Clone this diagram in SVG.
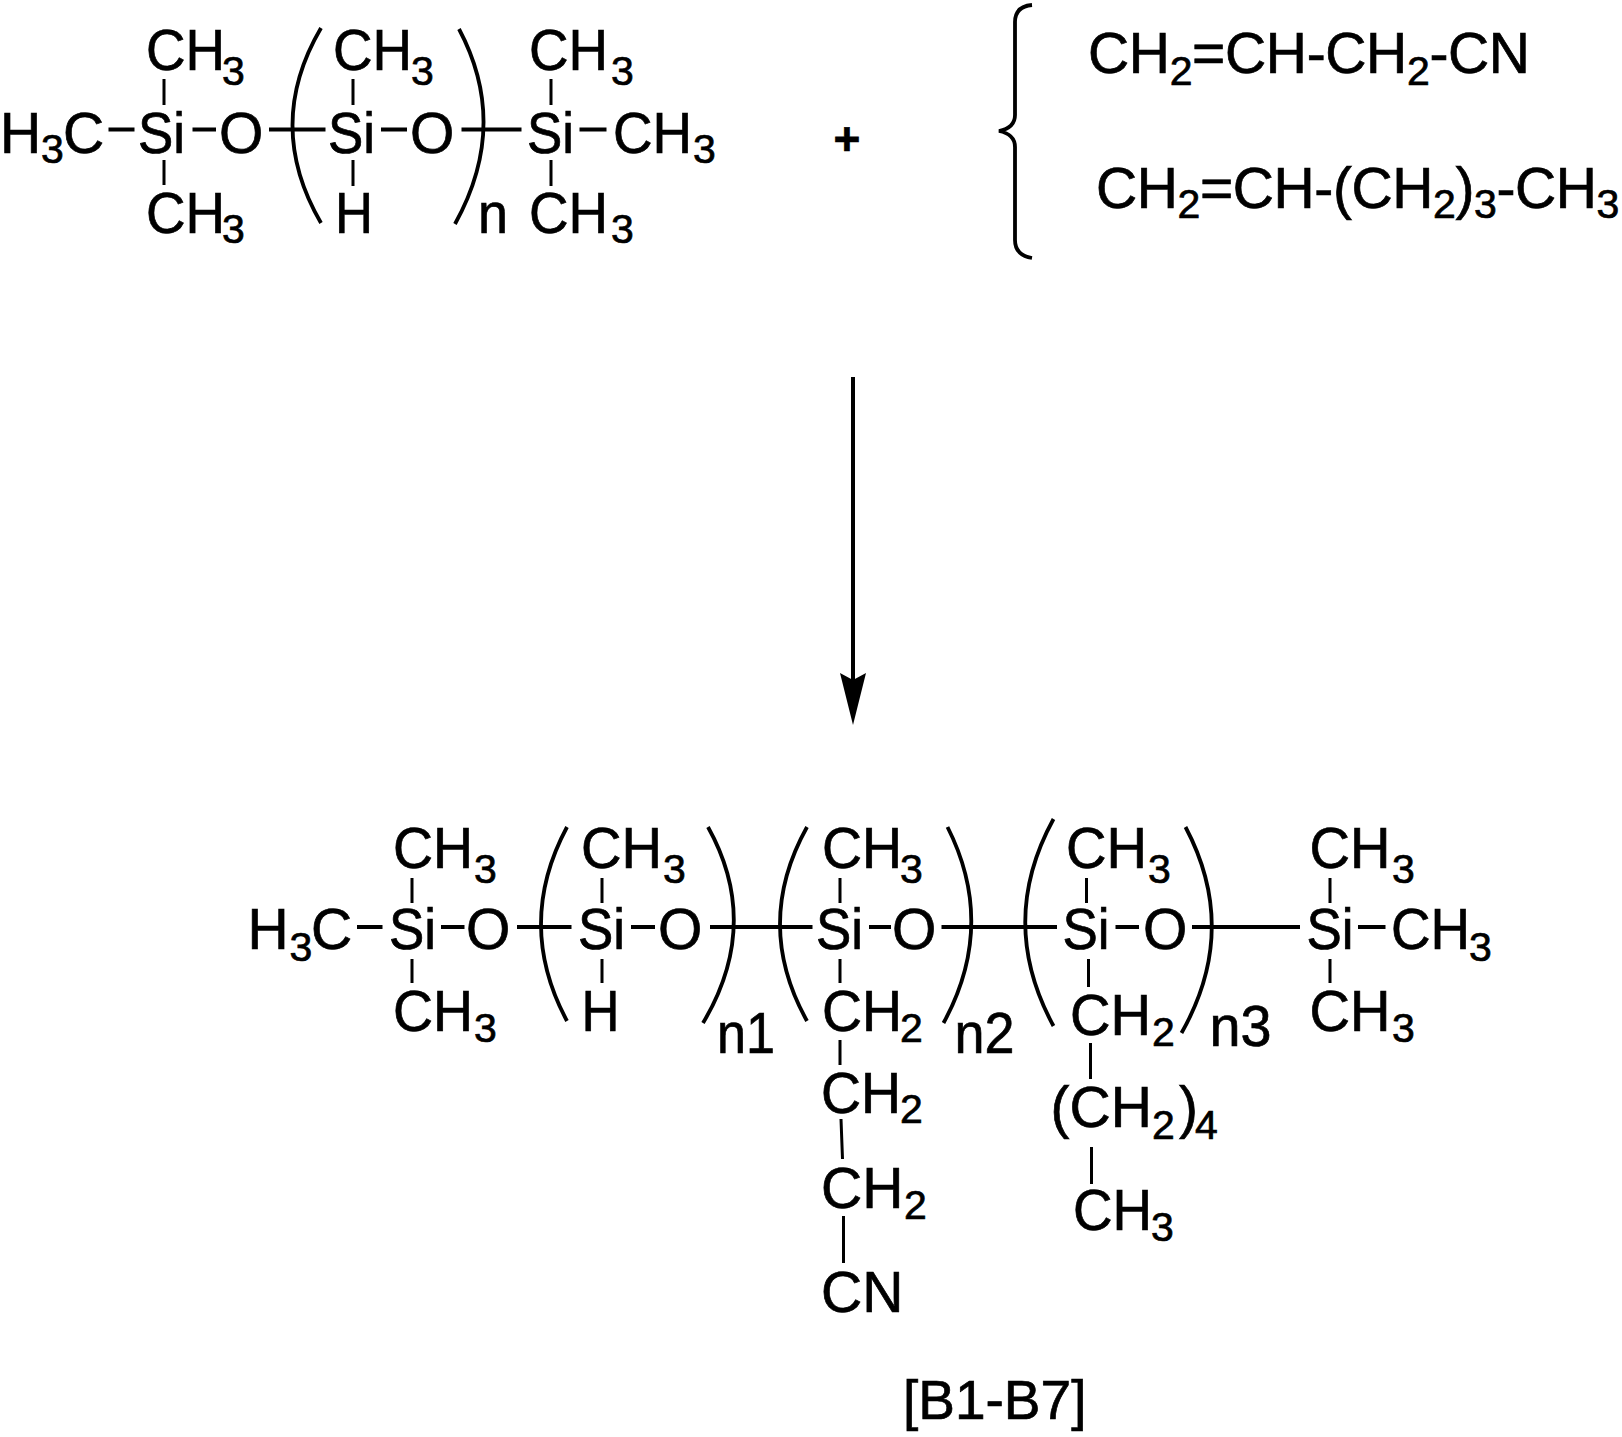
<svg xmlns="http://www.w3.org/2000/svg" width="1622" height="1437" viewBox="0 0 1622 1437">
<style>
text{font-family:"Liberation Sans",Arial,sans-serif;font-size:57px;fill:#000;stroke:#000;stroke-width:.7px}
.s{font-size:41px}
.b{stroke:#000;stroke-width:3.8;fill:none}
.v{stroke:#000;stroke-width:3;fill:none}
.p{stroke:#000;stroke-width:3.8;fill:none}
</style>
<rect width="1622" height="1437" fill="#fff"/>
<g id="connectors">
<path class="b" d="M108.500 129.500H134.500M192.500 129.500H216M269 129.500H325.500M381 129.500H407M461.500 129.500H521.500M579.500 129.500H606.500"/>
<path class="v" d="M164 79V105M164 160V185M353 79V105M353 160V186M551 79V105M551 160V186"/>
<path class="p" d="M321 28Q264 125 321 223M459 29Q510 125 455 224"/>
<path class="p" d="M1032 5C1020 6 1015 12 1015 22V115C1015 124 1009 129 999 131C1009 133 1015 138 1015 147V240C1015 250 1020 256 1032 258"/>
<path id="reaction-arrow-shaft" d="M853 377V682" stroke="#000" stroke-width="4" fill="none"/>
<path id="reaction-arrow-head" d="M840 673L853 680L866 673L853 725Z" fill="#000"/>
<path class="b" d="M357 927H382.500M441 927H464.500M517 927H571.500M631 927H655M710 927H812.500M869 927H891M941.500 927H1057M1115.500 927H1139M1192 927H1300M1358 927H1385.500"/>
<path class="v" d="M412 878V903M412 959V983M602 878V903M602 959V983M840 878V903M840 959V983M1086.500 878V903M1088.500 959V987M1330 878V903M1330 959V983M840 1040V1065M841 1119L842.500 1159M843.500 1216V1263M1090.500 1043V1079M1091.500 1147V1184"/>
<path class="p" d="M567 827Q515 924 567 1021M708 827Q762 924 703 1023M807 827Q753 924 807 1021M947.500 827Q997 925 943.500 1023M1053.500 819Q997 922 1053.500 1026M1185.500 827Q1240 930 1181.500 1033"/>
</g>
<g id="reactant-siloxane">
<g id="t1"><text x="146" y="70" textLength="79" lengthAdjust="spacingAndGlyphs">CH</text><text class="s" x="222" y="85">3</text></g>
<g id="t2"><text x="0" y="153">H</text><text class="s" x="41" y="163">3</text><text x="63" y="153">C</text></g>
<g id="t3"><text x="138" y="153" textLength="47" lengthAdjust="spacingAndGlyphs">Si</text></g>
<g id="t4"><text x="219" y="153">O</text></g>
<g id="t5"><text x="146" y="233" textLength="79" lengthAdjust="spacingAndGlyphs">CH</text><text class="s" x="222" y="243">3</text></g>
<g id="t6"><text x="333" y="70" textLength="79" lengthAdjust="spacingAndGlyphs">CH</text><text class="s" x="411" y="85">3</text></g>
<g id="t7"><text x="328" y="153" textLength="47" lengthAdjust="spacingAndGlyphs">Si</text></g>
<g id="t8"><text x="410" y="153">O</text></g>
<g id="t9"><text x="335" y="233" textLength="38" lengthAdjust="spacingAndGlyphs">H</text></g>
<g id="t10"><text x="478" y="233" textLength="30" lengthAdjust="spacingAndGlyphs">n</text></g>
<g id="t11"><text x="529" y="70" textLength="79" lengthAdjust="spacingAndGlyphs">CH</text><text class="s" x="611" y="85">3</text></g>
<g id="t12"><text x="527" y="153" textLength="47" lengthAdjust="spacingAndGlyphs">Si</text></g>
<g id="t13"><text x="613" y="153" textLength="79" lengthAdjust="spacingAndGlyphs">CH</text><text class="s" x="693" y="163">3</text></g>
<g id="t14"><text x="529" y="233" textLength="79" lengthAdjust="spacingAndGlyphs">CH</text><text class="s" x="611" y="243">3</text></g>
</g>
<g id="plus"><text x="847" y="155" text-anchor="middle" font-weight="bold" style="font-size:46px">+</text></g>
<g id="allyl-cyanide"><text x="1088" y="73" style="letter-spacing:-.35px">CH<tspan class="s" dy="12">2</tspan><tspan dy="-12">=CH-CH</tspan><tspan class="s" dy="12">2</tspan><tspan dy="-12">-CN</tspan></text></g>
<g id="hexene"><text x="1096" y="208" style="letter-spacing:-.4px">CH<tspan class="s" dy="10">2</tspan><tspan dy="-10">=CH-(CH</tspan><tspan class="s" dy="10">2</tspan><tspan dy="-10">)</tspan><tspan class="s" dy="10">3</tspan><tspan dy="-10">-CH</tspan><tspan class="s" dy="10">3</tspan></text></g>
<g id="product">
<g id="p1"><text x="393" y="868" textLength="80" lengthAdjust="spacingAndGlyphs">CH</text><text class="s" x="474" y="883">3</text></g>
<g id="p2"><text x="247.500" y="949">H</text><text class="s" x="289.500" y="961">3</text><text x="311" y="949">C</text></g>
<g id="p3"><text x="389" y="949" textLength="47" lengthAdjust="spacingAndGlyphs">Si</text></g>
<g id="p4"><text x="466" y="949">O</text></g>
<g id="p5"><text x="393" y="1031" textLength="80" lengthAdjust="spacingAndGlyphs">CH</text><text class="s" x="474" y="1042">3</text></g>
<g id="p6"><text x="581" y="868" textLength="81" lengthAdjust="spacingAndGlyphs">CH</text><text class="s" x="663" y="883">3</text></g>
<g id="p7"><text x="578" y="949" textLength="47" lengthAdjust="spacingAndGlyphs">Si</text></g>
<g id="p8"><text x="658" y="949">O</text></g>
<g id="p9"><text x="581.500" y="1031" textLength="38" lengthAdjust="spacingAndGlyphs">H</text></g>
<g id="p10"><text x="717" y="1053" textLength="58" lengthAdjust="spacingAndGlyphs">n1</text></g>
<g id="p11"><text x="822" y="868" textLength="80" lengthAdjust="spacingAndGlyphs">CH</text><text class="s" x="900" y="883">3</text></g>
<g id="p12"><text x="816" y="949" textLength="47" lengthAdjust="spacingAndGlyphs">Si</text></g>
<g id="p13"><text x="892" y="949">O</text></g>
<g id="p14"><text x="822" y="1031" textLength="80" lengthAdjust="spacingAndGlyphs">CH</text><text class="s" x="900" y="1042">2</text></g>
<g id="p15"><text x="821" y="1113" textLength="80" lengthAdjust="spacingAndGlyphs">CH</text><text class="s" x="900" y="1123">2</text></g>
<g id="p16"><text x="821" y="1208">CH</text><text class="s" x="904" y="1219">2</text></g>
<g id="p17"><text x="821" y="1312">CN</text></g>
<g id="p18"><text x="954.500" y="1053" textLength="60" lengthAdjust="spacingAndGlyphs">n2</text></g>
<g id="p19"><text x="1066" y="868" textLength="81" lengthAdjust="spacingAndGlyphs">CH</text><text class="s" x="1148" y="883">3</text></g>
<g id="p20"><text x="1062.500" y="949" textLength="47" lengthAdjust="spacingAndGlyphs">Si</text></g>
<g id="p21"><text x="1143" y="949">O</text></g>
<g id="p22"><text x="1070" y="1035" textLength="81" lengthAdjust="spacingAndGlyphs">CH</text><text class="s" x="1152" y="1046">2</text></g>
<g id="p23"><text x="1050.500" y="1127">(CH</text><text class="s" x="1152" y="1139">2</text><text x="1179" y="1127">)</text><text class="s" x="1195" y="1139">4</text></g>
<g id="p24"><text x="1073" y="1230" textLength="79" lengthAdjust="spacingAndGlyphs">CH</text><text class="s" x="1151" y="1241">3</text></g>
<g id="p25"><text x="1209.500" y="1046" textLength="62" lengthAdjust="spacingAndGlyphs">n3</text></g>
<g id="p26"><text x="1309.500" y="868" textLength="81" lengthAdjust="spacingAndGlyphs">CH</text><text class="s" x="1392" y="883">3</text></g>
<g id="p27"><text x="1306.500" y="949" textLength="47" lengthAdjust="spacingAndGlyphs">Si</text></g>
<g id="p28"><text x="1391" y="949" textLength="79" lengthAdjust="spacingAndGlyphs">CH</text><text class="s" x="1469" y="961">3</text></g>
<g id="p29"><text x="1309.500" y="1031" textLength="81" lengthAdjust="spacingAndGlyphs">CH</text><text class="s" x="1392" y="1042">3</text></g>
</g>
<g id="label"><text x="903" y="1419" style="font-size:55px">[B1-B7]</text></g>
</svg>
